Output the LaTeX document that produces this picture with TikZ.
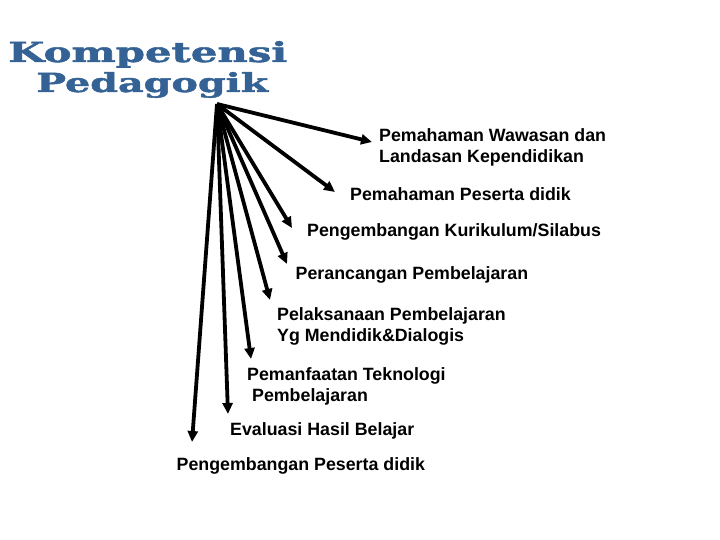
\documentclass[tikz,border=0pt]{standalone}
\usepackage{fontspec}
\setmainfont{Liberation Sans}
\newfontfamily\judulfont{DejaVu Serif}[BoldFeatures={FakeBold=1.5}]
\usetikzlibrary{arrows.meta}
\definecolor{judulbiru}{RGB}{52,98,148}

\begin{document}
\begin{tikzpicture}[x=1pt, y=-1pt,
    panah/.style={line width=3.8pt, -{Triangle[length=11pt,width=10pt]}},
    teks/.style={anchor=base west, inner sep=0pt, align=left,
        font=\bfseries\fontsize{17.8}{21}\selectfont},
    judul/.style={anchor=base west, inner sep=0pt, text=judulbiru}]
    \useasboundingbox (0,0) rectangle (720,540);
    % judul WordArt
    \node[judul] (judulA) at (8,62) {\resizebox{279pt}{21pt}{\judulfont\bfseries Kompetensi}};
    \node[judul] (judulB) at (36,92) {\resizebox{232pt}{20pt}{\judulfont\bfseries Pedagogik}};
    \coordinate (pusat) at (217,104);
    % panah ke tiap kompetensi
    \foreach \i/\x/\y in {1/372/142, 2/335/192, 3/292/228, 4/287/264,
                          5/270/300, 6/251/359, 7/228/414, 8/192/442} {
        \coordinate (ujung\i) at (\x,\y);
        \draw[panah] (pusat) -- (ujung\i);
    }
    \node[teks] (k1) at (379,162.7) {Pemahaman Wawasan dan\\Landasan Kependidikan};
    \node[teks] (k2) at (350,201) {Pemahaman Peserta didik};
    \node[teks] (k3) at (307,236.6) {Pengembangan Kurikulum/Silabus};
    \node[teks] (k4) at (295.5,279) {Perancangan Pembelajaran};
    \node[teks] (k5) at (277,341.6) {Pelaksanaan Pembelajaran\\Yg Mendidik\&Dialogis};
    \node[teks] (k6) at (247,401.6) {Pemanfaatan Teknologi\\\ Pembelajaran};
    \node[teks] (k7) at (230,435) {Evaluasi Hasil Belajar};
    \node[teks] (k8) at (176.5,470.6) {Pengembangan Peserta didik};
\end{tikzpicture}
\end{document}
